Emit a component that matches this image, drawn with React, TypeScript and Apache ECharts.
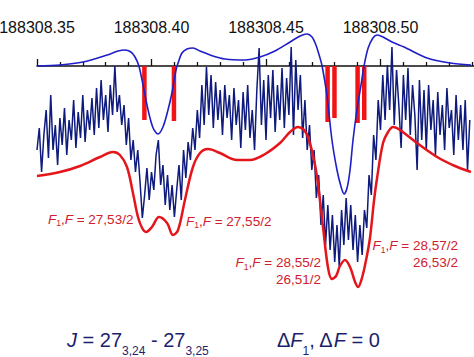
import React, { useEffect, useRef } from "react";
import * as echarts from "echarts";

// Frequencies are given as offsets (MHz) from this base frequency
const FREQ_BASE = 188308;
const X_MIN = 0.35;
const X_MAX = 0.55; // axis runs on past the right edge; the visible part ends near 0.54
const majorTicks = [0.35, 0.4, 0.45, 0.5];

// Predicted hyperfine components (stick spectrum)
const stickFreq = [0.3969, 0.4098, 0.4769, 0.4799, 0.49, 0.4929];
const stickInt = [54, 55, 56, 52, 57, 54];

// Simulated spectrum (blue)
const simFreq = [0.35, 0.36, 0.3701, 0.3806, 0.3854, 0.3884, 0.391, 0.3928, 0.3945, 0.3963, 0.3985, 0.4007, 0.4028, 0.405, 0.4072, 0.409, 0.4107, 0.4116, 0.4133, 0.4155, 0.4181, 0.4212, 0.4256, 0.4321, 0.4408, 0.4474, 0.4539, 0.4605, 0.4649, 0.4679, 0.4701, 0.4718, 0.4732, 0.4745, 0.4766, 0.4788, 0.481, 0.4828, 0.4841, 0.4854, 0.4867, 0.488, 0.4897, 0.4915, 0.4928, 0.4946, 0.4967, 0.4985, 0.5011, 0.505, 0.5103, 0.5203, 0.5304, 0.5395];
const simVal = [0, -1, -4, -11, -15, -16, -14, -9, 0, 19, 44, 62, 68, 61, 44, 26, 4, -3, -13, -17, -18, -15, -11, -7, -6, -9, -15, -24, -30, -32, -29, -21, -11, 0, 29, 74, 104, 121, 128, 122, 104, 74, 44, 19, 0, -18, -28, -31, -29, -24, -19, -8, -3, -1];

// Fitted profile (red)
const fitFreq = [0.35, 0.36, 0.3688, 0.3775, 0.3832, 0.3862, 0.3893, 0.3919, 0.3941, 0.3959, 0.3976, 0.4002, 0.4033, 0.4068, 0.4094, 0.4116, 0.4146, 0.4181, 0.4212, 0.4247, 0.4299, 0.4373, 0.443, 0.4496, 0.4561, 0.4605, 0.464, 0.4666, 0.4683, 0.4705, 0.4723, 0.4749, 0.4771, 0.4788, 0.4806, 0.4823, 0.4845, 0.4867, 0.4889, 0.4902, 0.4919, 0.4937, 0.4954, 0.4972, 0.4985, 0.5011, 0.5033, 0.5055, 0.5085, 0.5159, 0.5247, 0.5325, 0.5395];
const fitVal = [110, 106, 100, 91, 86, 89, 101, 127, 151, 162, 166, 161, 151, 157, 169, 164, 134, 101, 87, 83, 87, 94, 94, 88, 77, 66, 61, 64, 71, 89, 111, 161, 202, 213, 210, 200, 194, 201, 216, 221, 212, 194, 172, 134, 112, 77, 66, 61, 64, 77, 91, 100, 106];

// Observed (noisy) spectrum, uniformly sampled
const OBS_START = 0.35;
const OBS_STEP = 0.001;
const obsVal = [
  84, 62, 106, 69, 44, 92,
  29, 84, 59, 99, 52, 79, 42, 89, 54, 74,
  34, 82, 46, 72, 29, 76, 44, 64, 32, 69,
  22, 62, 14, 54, 29, 66, 19, 49, 0, 46,
  29, 59, 39, 79, 52, 94, 74, 106, 84, 116,
  152, 129, 102, 134, 106, 124, 89, 74, 119, 99, 139, 109, 144, 119, 151,
  124, 99, 134, 84, 112, 76, 94, 62, 84, 44, 72,
  19, 59, 1, 49, 9, 62, 16, 54, 24, 69, 19, 52, 29, 74, 22, 59, 34, 82, 26, 64, 19, 72,
  44, 84, 24, -18, 59, 14, 74, 9, 52, 4, 66, 19, 54, 2, 62, 12, 49, -19, 69, -6, 44, 9,
  72, 34, 84, 59, 104, 84, 132, 109, 159, 129, 179, 139, 184,
  149, 196, 159, 201, 144, 179, 132, 174, 139, 184, 149, 196, 159, 189, 144,
  162, 109, 129, 69, 94, 34, 64,
  9, 54, -1, 44, -19, 59, 4, 39,
  82, 9, 54, 2, 69, 19, 49, 104, 14,
  74, 24, 84, 19, 64, 34, 89, 26, 69, 39, 84, 22, 62, 44, 89, 29, 74, 39, 84, 34, 104, 54,
];

const FONT = "'Liberation Sans', Arial, Helvetica, sans-serif";
const RED_TEXT = "#d0202e";
const NAVY_TEXT = "#1c1f6e";

export default function App() {
  const ref = useRef<HTMLDivElement>(null);

  useEffect(() => {
    if (!ref.current) return;
    const chart = echarts.init(ref.current, undefined, { renderer: "svg" });

    const sim = simFreq.map((f, i) => [f, simVal[i]]);
    const fit = fitFreq.map((f, i) => [f, fitVal[i]]);
    const obs = obsVal.map((v, i) => [OBS_START + OBS_STEP * i, v]);
    const sticks = stickFreq.map((f, i) => [f, stickInt[i]]);

    const redRich = {
      i: { fontStyle: "italic", fontSize: 13.5, lineHeight: 17, fontFamily: FONT, fill: RED_TEXT },
      s: { fontSize: 8.5, lineHeight: 9, verticalAlign: "bottom", fontFamily: FONT, fill: RED_TEXT },
      n: { fontSize: 13.5, lineHeight: 17, fontFamily: FONT, fill: RED_TEXT },
    };
    const bigRich = {
      i: { fontStyle: "italic", fontSize: 20, lineHeight: 34, fontFamily: FONT, fill: NAVY_TEXT },
      s: { fontSize: 12, lineHeight: 11, verticalAlign: "bottom", fontFamily: FONT, fill: NAVY_TEXT },
      n: { fontSize: 20, lineHeight: 34, fontFamily: FONT, fill: NAVY_TEXT },
    };
    const redText = (text: string, x: number, y: number, align: string) => ({
      type: "text",
      x,
      y,
      z: 100,
      style: { text, rich: redRich, fill: RED_TEXT, fontSize: 13.5, fontFamily: FONT, align, verticalAlign: "middle" },
    });

    chart.setOption({
      animation: false,
      grid: { left: 37, right: -21, top: 66, bottom: 0, containLabel: false, outerBoundsMode: "none" },
      xAxis: {
        type: "value",
        position: "top",
        min: X_MIN,
        max: X_MAX,
        interval: 0.05,
        axisLine: { show: true, onZero: false, lineStyle: { color: "#111", width: 1.5 } },
        axisTick: { show: true, length: 7, lineStyle: { color: "#111", width: 1.3 } },
        minorTick: { show: true, splitNumber: 5, length: 4, lineStyle: { color: "#111", width: 1.3 } },
        axisLabel: {
          show: true,
          customValues: majorTicks,
          margin: 31,
          fontSize: 16,
          fontFamily: FONT,
          color: "#111",
          formatter: (v: number) => (FREQ_BASE + v).toFixed(2),
        },
        splitLine: { show: false },
        minorSplitLine: { show: false },
      },
      yAxis: { type: "value", show: false, inverse: true, min: 0, max: 291, splitLine: { show: false } },
      series: [
        {
          type: "line",
          data: obs,
          showSymbol: false,
          clip: false,
          lineStyle: { color: "#0e1a7c", width: 1.5 },
          z: 2,
        },
        {
          type: "line",
          data: fit,
          smooth: 0.35,
          showSymbol: false,
          clip: false,
          lineStyle: { color: "#e4161c", width: 2.5 },
          z: 3,
        },
        {
          type: "bar",
          data: sticks,
          barWidth: 4.5,
          itemStyle: { color: "#f21414" },
          z: 4,
        },
        {
          type: "line",
          data: sim,
          smooth: 0.3,
          showSymbol: false,
          clip: false,
          lineStyle: { color: "#1f1fc8", width: 1.6 },
          z: 5,
        },
      ],
      graphic: [
        redText("{i|F}{s|1}{n|,}{i|F}{n| = 27,53/2}", 48, 219, "left"),
        redText("{i|F}{s|1}{n|,}{i|F}{n| = 27,55/2}", 186, 221, "left"),
        redText("{i|F}{s|1}{n|,}{i|F}{n| = 28,55/2}\n{n|26,51/2}", 321, 271, "right"),
        redText("{i|F}{s|1}{n|,}{i|F}{n| = 28,57/2}\n{n|26,53/2}", 458, 254, "right"),
        {
          type: "text",
          x: 67,
          y: 340,
          z: 100,
          style: { text: "{i|J}{n| = 27}{s|3,24}{n| - 27}{s|3,25}", rich: bigRich, fill: NAVY_TEXT, fontSize: 20, fontFamily: FONT, align: "left", verticalAlign: "middle" },
        },
        {
          type: "text",
          x: 277,
          y: 340,
          z: 100,
          style: { text: "{n|Δ}{i|F}{s|1}{n|, Δ}{i|F}{n| = 0}", rich: bigRich, fill: NAVY_TEXT, fontSize: 20, fontFamily: FONT, align: "left", verticalAlign: "middle" },
        },
      ],
    });

    return () => chart.dispose();
  }, []);

  return (
    <div
      ref={ref}
      style={{ position: "fixed", left: 0, top: 0, width: 474, height: 357, background: "#fff" }}
    />
  );
}
